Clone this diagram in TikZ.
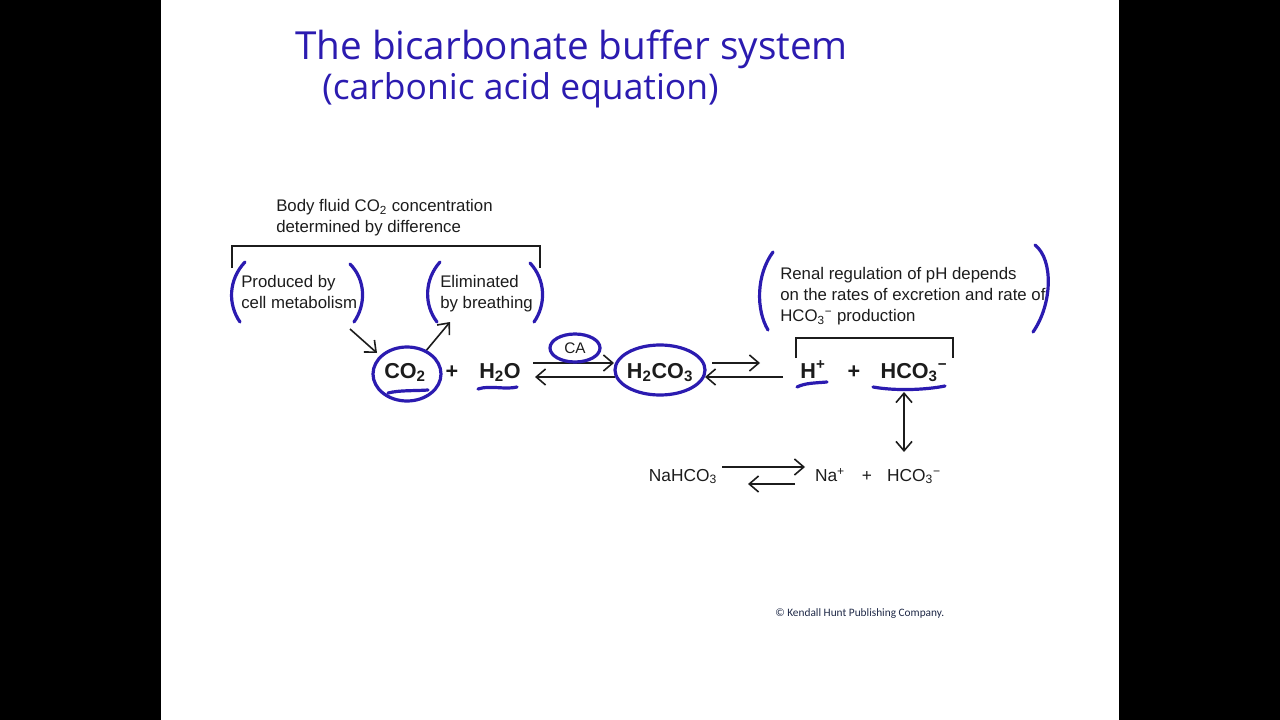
\documentclass[tikz,border=0pt]{standalone}
\usepackage{fontspec}
\setmainfont{Liberation Sans}
\newfontfamily\handfont{Open Sans}
\newfontfamily\credfont{Carlito}
\usetikzlibrary{arrows.meta,shapes.geometric}
\definecolor{ink}{RGB}{43,27,176}
\definecolor{txt}{RGB}{28,28,28}
\definecolor{cred}{RGB}{30,40,70}
\begin{document}
\begin{tikzpicture}[x=0.75pt,y=-0.75pt,
  body/.style={font=\fontsize{12.6}{15.75}\selectfont, text=txt, align=left, inner sep=0pt, anchor=north west},
  chem/.style={font=\fontsize{16.2}{18}\selectfont\bfseries, text=txt, inner sep=0pt, anchor=base},
  small/.style={font=\fontsize{13}{15}\selectfont, text=txt, inner sep=0pt, anchor=base},
  tip/.tip={Straight Barb[length=7pt,width=12pt]},
  rxn/.style={draw=txt, line width=1.2pt, -tip},
  brk/.style={draw=txt, line width=1.2pt},
  pen/.style={draw=ink, line width=2.4pt, line cap=round, line join=round},
  hand/.style={font=\handfont\fontsize{29}{32}\selectfont, text=ink, inner sep=0pt, anchor=base west},
]
\useasboundingbox (0,0) rectangle (1280,720);
\fill[black] (0,0) rectangle (161,720);
\fill[black] (1119,0) rectangle (1280,720);

% handwritten title
\node[hand] (t1) at (295,60) {The bicarbonate buffer system};
\node[hand, font=\handfont\fontsize{26.6}{30}\selectfont] (t2) at (322,100) {(carbonic acid equation)};

% texts
\node[body] (bf) at (276,199) {Body fluid CO\textsubscript{2} concentration\\determined by difference};
\node[body] (prod) at (241,275) {Produced by\\cell metabolism};
\node[body] (elim) at (440,275) {Eliminated\\by breathing};
\node[body] (renal) at (780,267) {Renal regulation of pH depends\\on the rates of excretion and rate of\\HCO\textsubscript{3}\textsuperscript{−} production};

% brackets
\draw[brk] (232,268) -- (232,246) -- (540,246) -- (540,268);
\draw[brk] (796,358) -- (796,338) -- (953,338) -- (953,358);

% main equation
\node[chem] (co2) at (405,378) {CO\textsubscript{2}};
\node[chem] (p1) at (452,378) {+};
\node[chem] (h2o) at (500,378) {H\textsubscript{2}O};
\node[small, font=\fontsize{11.5}{13}\selectfont] (ca) at (575,353) {CA};
\node[chem] (h2co3) at (660,378) {H\textsubscript{2}CO\textsubscript{3}};
\node[chem] (hp) at (813,378) {H\textsuperscript{+}};
\node[chem] (p2) at (854,378) {+};
\node[chem] (hco3) at (914,378) {HCO\textsubscript{3}\textsuperscript{−}};

% lower equation
\node[small] (nahco3) at (683,481) {NaHCO\textsubscript{3}};
\node[small] (nap) at (830,481) {Na\textsuperscript{+}};
\node[small] (p3) at (867,481) {+};
\node[small] (hco3b) at (914,481) {HCO\textsubscript{3}\textsuperscript{−}};

% credit
\node[font=\credfont\fontsize{8.5}{10}\selectfont, text=cred, inner sep=0pt, anchor=west] (cr) at (775,614) {© Kendall Hunt Publishing Company.};

% arrow end points
\coordinate (a1s) at (350,329); \coordinate (a1e) at (377,353);
\coordinate (a2s) at (425,352); \coordinate (a2e) at (450,322);
\coordinate (r1s) at (533,363); \coordinate (r1e) at (614,363);
\coordinate (r2s) at (615,377); \coordinate (r2e) at (535,377);
\coordinate (r3s) at (712,363); \coordinate (r3e) at (760,363);
\coordinate (r4s) at (783,377); \coordinate (r4e) at (705,377);
\coordinate (vs) at (904,392); \coordinate (ve) at (904,452);
\coordinate (n1s) at (722,467); \coordinate (n1e) at (805,467);
\coordinate (n2s) at (795,484); \coordinate (n2e) at (748,484);

\draw[rxn] (a1s) -- (a1e);
\draw[rxn] (a2s) -- (a2e);
\draw[rxn] (r1s) -- (r1e);
\draw[rxn] (r2s) -- (r2e);
\draw[rxn] (r3s) -- (r3e);
\draw[rxn] (r4s) -- (r4e);
\draw[rxn, tip-tip] (vs) -- (ve);
\draw[rxn] (n1s) -- (n1e);
\draw[rxn] (n2s) -- (n2e);

% blue pen marks
\draw[pen] (407,374) ellipse [x radius=34, y radius=27];
\draw[pen] (575,348) ellipse [x radius=25, y radius=14];
\draw[pen] (660,370) ellipse [x radius=45, y radius=25];
\draw[pen] (388,393) .. controls (400,390) and (415,391) .. (428,390);
\draw[pen] (478,389) .. controls (490,385) and (505,390) .. (517,387);
\draw[pen] (797,387) .. controls (805,383) and (815,383) .. (827,382);
\draw[pen] (873,387) .. controls (895,391) and (925,390) .. (945,386);
% parentheses
\draw[pen] (245,262) .. controls (228,280) and (228,305) .. (240,322);
\draw[pen] (350,264) .. controls (366,280) and (366,305) .. (354,322);
\draw[pen] (440,262) .. controls (424,280) and (424,305) .. (437,322);
\draw[pen] (530,263) .. controls (546,280) and (546,305) .. (534,322);
\draw[pen] (773,252) .. controls (756,275) and (756,310) .. (768,330);
\draw[pen] (1035,245) .. controls (1054,260) and (1052,305) .. (1033,332);
\end{tikzpicture}
\end{document}
